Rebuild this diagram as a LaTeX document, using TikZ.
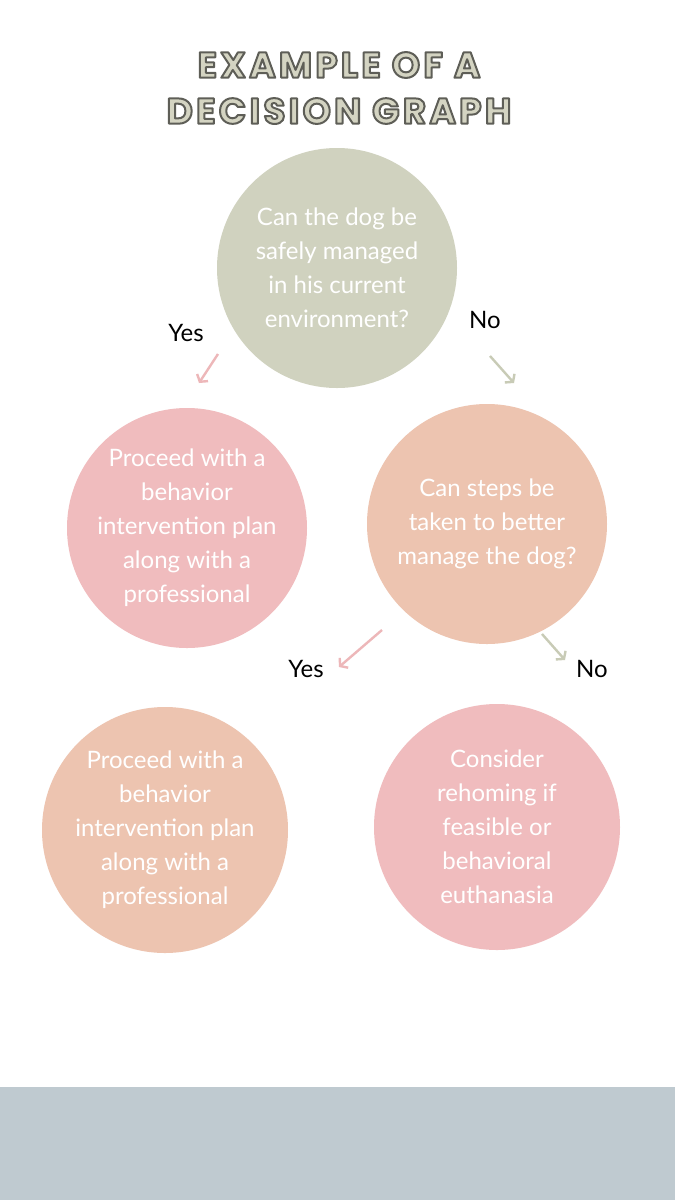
\documentclass[tikz,border=0pt]{standalone}
\usepackage{fontspec}
\setmainfont{Lato}
\newfontfamily\titlefont{Poppins}[LetterSpace=9]
\usetikzlibrary{arrows.meta}

\definecolor{sage}{HTML}{D0D2BF}
\definecolor{blush}{HTML}{F0BCBE}
\definecolor{peach}{HTML}{EDC4B0}
\definecolor{slate}{HTML}{BFCAD0}
\definecolor{titlefill}{HTML}{D4D4C2}
\definecolor{blusharrow}{HTML}{EDB7B9}
\definecolor{sagearrow}{HTML}{C8CBB6}

% outlined letters: fill and stroke
\newcommand{\outlined}[1]{\special{pdf:literal direct 0.37 0.37 0.34 RG 2 w 1 j 2 Tr}#1\special{pdf:literal direct 0 Tr}}

\tikzset{
  bubble/.style={circle, inner sep=0pt, minimum size=240pt, align=center,
    text=white, font=\fontsize{24}{34}\selectfont},
  answer/.style={font=\fontsize{24}{28}\selectfont, text=black},
  titletext/.style={align=center, text=titlefill,
    font=\titlefont\bfseries\fontsize{36}{46}\selectfont},
  pointer/.style={line width=2.4pt, -{Straight Barb[length=5pt,width=13pt]}}
}

\begin{document}
\begin{tikzpicture}[x=1pt, y=-1pt]
  \useasboundingbox (0,0) rectangle (675,1200);
  \fill[white] (0,0) rectangle (675,1200);
  \fill[slate] (0,1087) rectangle (675,1200);

  % title
  \node[titletext] (title) at (339,88)
    {\outlined{EXAMPLE OF A}\\\outlined{DECISION GRAPH}};

  % circles
  \node[bubble, fill=sage] (q1) at (337,268)
    {Can the dog be\\safely managed\\in his current\\environment?};
  \node[bubble, fill=blush] (plan1) at (187,528)
    {Proceed with a\\behavior\\intervention plan\\along with a\\professional};
  \node[bubble, fill=peach] (q2) at (487,524)
    {Can steps be\\taken to better\\manage the dog?};
  \node[bubble, fill=peach, minimum size=246pt] (plan2) at (165,830)
    {Proceed with a\\behavior\\intervention plan\\along with a\\professional};
  \node[bubble, fill=blush, minimum size=246pt] (rehome) at (497,827)
    {Consider\\rehoming if\\feasible or\\behavioral\\euthanasia};

  % answers
  \node[answer] (yes1) at (186,333) {Yes};
  \node[answer] (no1) at (485,320) {No};
  \node[answer] (yes2) at (306,669) {Yes};
  \node[answer] (no2) at (592,669) {No};

  % arrow ends
  \coordinate (yes1a) at (218,354);
  \coordinate (yes1b) at (199,383);
  \coordinate (no1a) at (490,356);
  \coordinate (no1b) at (514,383);
  \coordinate (yes2a) at (382,630);
  \coordinate (yes2b) at (339,667);
  \coordinate (no2a) at (542,634);
  \coordinate (no2b) at (565,660);

  \draw[pointer, blusharrow] (yes1a) -- (yes1b);
  \draw[pointer, sagearrow] (no1a) -- (no1b);
  \draw[pointer, blusharrow] (yes2a) -- (yes2b);
  \draw[pointer, sagearrow] (no2a) -- (no2b);
\end{tikzpicture}
\end{document}
